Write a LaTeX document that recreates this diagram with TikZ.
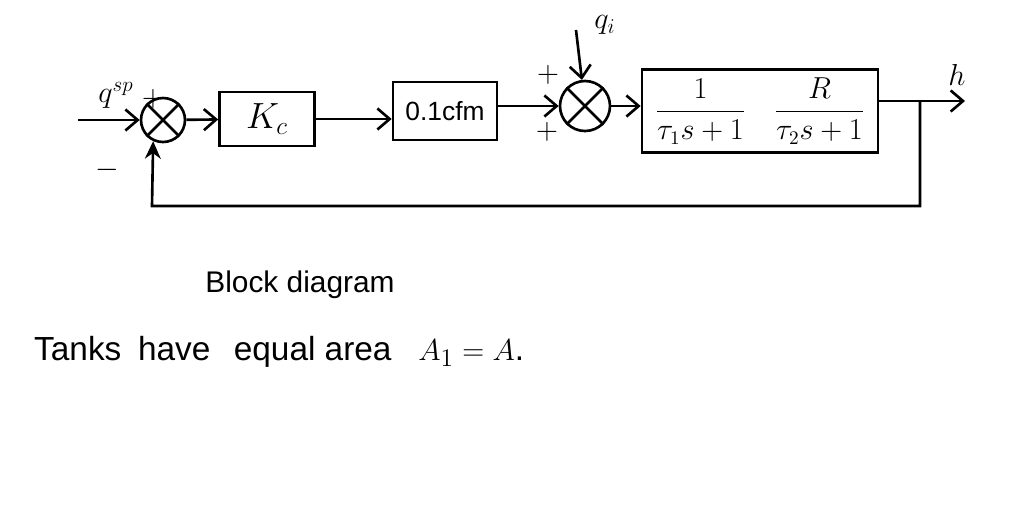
\documentclass[tikz,border=0pt]{standalone}
\usepackage{fontspec}
\setmainfont{Liberation Sans}
\usetikzlibrary{arrows.meta, positioning}

\begin{document}
\begin{tikzpicture}[x=0.02cm, y=-0.02cm,
      box/.style={draw, line width=1.5pt, minimum width=1.9cm, minimum height=1.08cm, align=center, font=\fontsize{20}{24}\selectfont},
      sum/.style={draw, circle, line width=1.5pt, minimum size=0.88cm, inner sep=0pt},
      arr/.style={-{Straight Barb[length=7pt, width=12pt]}, line width=1.5pt},
      fbarr/.style={-{Stealth[length=10pt, width=9pt]}, line width=1.5pt},
      lbl/.style={font=\fontsize{18}{22}\selectfont}
    ]
      \useasboundingbox (0,0) rectangle (1024,512);
      \node[sum] (sum1) at (163,120) {};
      \node[box] (kc) at (267,119) {$K_c$};
      \node[box, minimum width=2.08cm, minimum height=1.16cm, font=\fontsize{15}{18}\selectfont] (valve) at (445,111) {0.1cfm};
      \node[sum, minimum size=1.0cm] (sum2) at (585,106) {};
      \node[box, minimum width=4.72cm, minimum height=1.66cm, font=\fontsize{16}{20}\selectfont] (plant) at (760,111)
        {$\displaystyle\frac{1}{\tau_1 s+1}\quad\frac{R}{\tau_2 s+1}$};
      \foreach \s in {sum1, sum2}
        \draw[line width=1.5pt] (\s.45) -- (\s.225) (\s.135) -- (\s.315);
      \coordinate (in)  at (78,120);
      \coordinate (qi)  at (576,30);
      \coordinate (out) at (965,101);
      \coordinate (tap) at (920,101);
      \coordinate (fb)  at (152,206);
      \draw[arr] (in)--(sum1);
      \draw[arr] (sum1)--(kc);
      \draw[arr] (kc.east)--(kc.east -| valve.west);
      \draw[arr] (valve.east |- sum2)--(sum2);
      \draw[arr] (qi)--(sum2);
      \draw[arr] (sum2)--(sum2 -| plant.west);
      \draw[arr] (plant.east |- out)--(out);
      \draw[fbarr] (tap)--(tap |- fb)--(fb)--(sum1.245);
      \node[lbl] (qsp)  at (116,95)  {$q^{sp}$};
      \node[lbl] (plus1) at (153,99) {$+$};
      \node[lbl] (minus1) at (107,170) {$-$};
      \node[lbl] (qilbl) at (605,25) {$q_i$};
      \node[lbl] (plus2) at (548,75)  {$+$};
      \node[lbl] (plus3) at (547,132) {$+$};
      \node[lbl] (hlbl)  at (957,75)  {$h$};
      \node[font=\fontsize{17}{20}\selectfont] (title) at (300,285) {Block diagram};
      \node[anchor=west, font=\fontsize{19}{22}\selectfont] (note) at (28,352)
        {Tanks\hspace{0.5em}have\hspace{0.7em}equal area\hspace{0.8em}$A_1 = A$.};
    \end{tikzpicture}
\end{document}
